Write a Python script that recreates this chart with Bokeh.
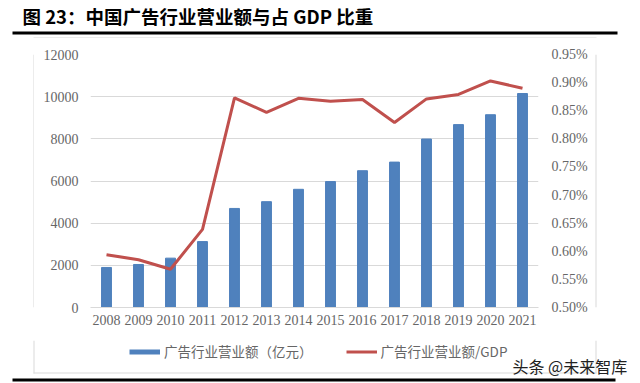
from bokeh.plotting import figure
from bokeh.layouts import column, row
from bokeh.models import (Range1d, LinearAxis, FixedTicker, PrintfTickFormatter,
                          Label, BoxAnnotation, Legend, LegendItem, ColumnDataSource)
from bokeh.embed import file_html
from bokeh.resources import INLINE

# ---- data ----
years = ["2008", "2009", "2010", "2011", "2012", "2013", "2014",
         "2015", "2016", "2017", "2018", "2019", "2020", "2021"]
revenue = [1899, 2041, 2341, 3126, 4698, 5020, 5606, 5973, 6489, 6896,
           7991, 8674, 9144, 10150]
ratio = [0.594, 0.585, 0.568, 0.639, 0.873, 0.847, 0.872, 0.867, 0.870,
         0.829, 0.871, 0.879, 0.903, 0.890]
left_ticks = [0, 2000, 4000, 6000, 8000, 10000, 12000]
right_ticks = [0.50, 0.55, 0.60, 0.65, 0.70, 0.75, 0.80, 0.85, 0.90, 0.95]
title_text = "图 23：中国广告行业营业额与占 GDP 比重"
bar_name = "广告行业营业额（亿元）"
line_name = "广告行业营业额/GDP"
watermark = "头条 @未来智库"

BLUE = "#4F81BD"
RED = "#C0504D"
GRID = "#d9d9d9"
LABEL = "#666666"
SERIF = "Liberation Serif"
CJK = "Noto Sans CJK SC"

# page layout (px)
W, H = 640, 383
TOP_H = 38          # title strip
MID_H = 302         # chart strip
BOT_H = H - TOP_H - MID_H
L_W, R_W = 34, 46   # side strips beside the chart
C_W = W - L_W - R_W


def deco(w, h):
    """A plain figure whose frame is its whole canvas; coordinates = pixels."""
    f = figure(width=w, height=h, x_range=Range1d(0, w), y_range=Range1d(0, h),
               output_backend="svg", toolbar_location=None,
               x_axis_type=None, y_axis_type=None, min_border=0)
    f.outline_line_color = None
    f.grid.visible = False
    f.background_fill_color = "white"
    f.border_fill_color = "white"
    return f


def rect(f, h, l, r, t, b, **kw):
    # l, r, t, b in local pixel coordinates (t/b from the top)
    f.add_layout(BoxAnnotation(left=l, right=r, top=h - t, bottom=h - b,
                               line_color=None, fill_alpha=1, **kw))


# ---- top strip: title + rule ----
top = deco(W, TOP_H)
top.add_layout(Label(x=22, y=TOP_H - 15, text=title_text, text_font=CJK,
                     text_font_style="bold", text_font_size="18.5px",
                     text_color="black", text_baseline="middle", text_align="left"))
rect(top, TOP_H, 12, 617, 31, 34, fill_color="black")
rect(top, TOP_H, 33, 596, 37, 38, fill_color=GRID)

# ---- side strips: chart-area border ----
left = deco(L_W, MID_H)
rect(left, MID_H, 33, 34, 0, MID_H, fill_color=GRID)
right = deco(R_W, MID_H)
rect(right, MID_H, 1, 2, 0, MID_H, fill_color=GRID)

# ---- chart ----
FL, FR, FT, FB = 90 - L_W, 538 - L_W, 54 - TOP_H, 307 - TOP_H
p = figure(width=C_W, height=MID_H, x_range=years, y_range=Range1d(0, 12000),
           output_backend="svg", toolbar_location=None,
           min_border_left=FL, min_border_right=C_W - FR,
           min_border_top=FT, min_border_bottom=MID_H - FB)
p.outline_line_color = None
p.background_fill_color = "white"
p.border_fill_color = "white"
p.extra_y_ranges = {"pct": Range1d(0.50, 0.95)}

src = ColumnDataSource(dict(x=years, rev=revenue, r=ratio))
p.vbar(x="x", top="rev", width=0.31, source=src, color=BLUE)
p.line(x="x", y="r", source=src, y_range_name="pct", line_color=RED, line_width=3)


def style_axis(ax, standoff):
    ax.axis_line_color = None
    ax.major_tick_line_color = None
    ax.minor_tick_line_color = None
    ax.major_tick_out = 0
    ax.major_tick_in = 0
    ax.minor_tick_out = 0
    ax.major_label_text_font = SERIF
    ax.major_label_text_font_size = "14px"
    ax.major_label_text_color = LABEL
    ax.major_label_standoff = standoff


la = p.yaxis[0]
la.ticker = FixedTicker(ticks=left_ticks)
style_axis(la, 12)

ra = LinearAxis(y_range_name="pct", ticker=FixedTicker(ticks=right_ticks),
                formatter=PrintfTickFormatter(format="%.2f%%"))
style_axis(ra, 13)
p.add_layout(ra, "right")

xa = p.xaxis[0]
style_axis(xa, 7)
xa.axis_line_color = GRID

p.xgrid.grid_line_color = None
p.ygrid.grid_line_color = GRID

# ---- bottom strip: legend, watermark, border, rule ----
bot = deco(W, BOT_H)
rect(bot, BOT_H, 33, 34, 0, 33, fill_color=GRID)
rect(bot, BOT_H, 595, 596, 0, 33, fill_color=GRID)
rect(bot, BOT_H, 33, 596, 32, 33, fill_color=GRID)
rect(bot, BOT_H, 12, 615, 38, 41, fill_color="black")
bot.add_layout(Label(x=512, y=BOT_H - 25, text=watermark, text_font=CJK,
                     text_font_size="16px", text_color="#222222",
                     text_baseline="middle", text_align="left"))

# legend swatches: renderers kept outside the visible range of this strip
sw_bar = bot.line(x=[-50, -40], y=[-50, -50], line_color=BLUE, line_width=5)
sw_line = bot.line(x=[-50, -40], y=[-50, -50], line_color=RED, line_width=3)
legend = Legend(items=[LegendItem(label=bar_name, renderers=[sw_bar]),
                       LegendItem(label=line_name, renderers=[sw_line])],
                orientation="horizontal", location=(129, 22),
                glyph_width=31, glyph_height=13, label_standoff=4, spacing=33,
                padding=0, margin=0, border_line_color=None,
                background_fill_alpha=0, label_text_font=CJK,
                label_text_font_size="13.5px", label_text_color=LABEL,
                label_height=13)
bot.add_layout(legend, "center")

layout = column(top, row(left, p, right), bot)
open("out.html", "w").write(file_html(layout, INLINE))
